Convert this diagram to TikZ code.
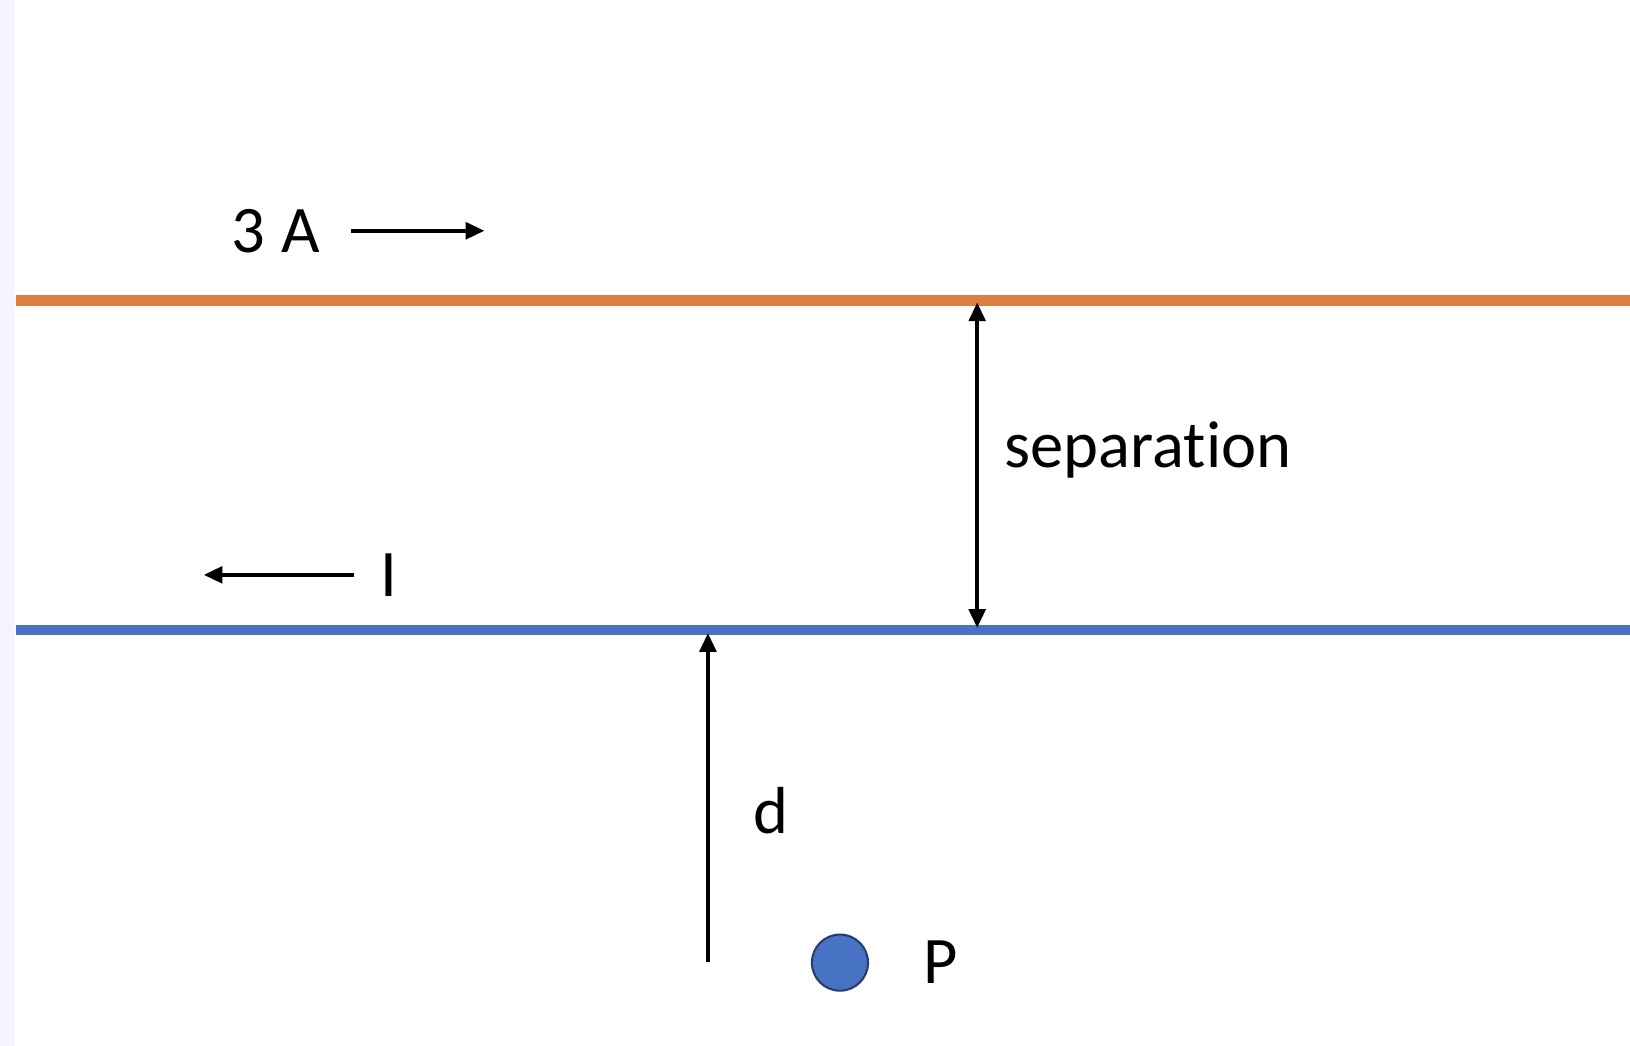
\documentclass[tikz,border=0pt]{standalone}
\usepackage{fontspec}
\setmainfont{Carlito}[Ligatures={NoCommon,NoRequired,NoContextual}]
\usetikzlibrary{arrows.meta}
\begin{document}
\begin{tikzpicture}[x=0.5pt,y=-0.5pt,
  lbl/.style={font=\fontsize{32}{36}\selectfont,inner sep=0pt},
  arr/.style={line width=1.8pt,-{Triangle[length=9pt,width=8pt]}},
  darr/.style={line width=1.8pt,{Triangle[length=9pt,width=8pt]}-{Triangle[length=9pt,width=8pt]}}]
\useasboundingbox (0,0) rectangle (1568,1006);
\fill[blue!4] (0,0) rectangle (14,1006);
\coordinate (o1) at (15,289); \coordinate (o2) at (1568,289);
\coordinate (b1) at (15,606); \coordinate (b2) at (1568,606);
\draw[line width=5pt,color={rgb,255:red,221;green,125;blue,64}] (o1) -- (o2);
\draw[line width=5pt,color={rgb,255:red,72;green,114;blue,196}] (b1) -- (b2);
\node[lbl,anchor=west] (tA) at (222,222) {\addfontfeatures{LetterSpace=3}3 A};
\coordinate (a1) at (338,222); \coordinate (a2) at (466,222);
\draw[arr] (a1) -- (a2);
\coordinate (i1) at (341,553); \coordinate (i2) at (196,553);
\draw[arr] (i1) -- (i2);
\node[lbl,anchor=west] (tI) at (366,553) {I};
\coordinate (s1) at (940,291); \coordinate (s2) at (940,604);
\draw[darr] (s1) -- (s2);
\node[lbl,anchor=west] (tS) at (966,433) {separation};
\coordinate (d1) at (681,925); \coordinate (d2) at (681,609);
\draw[arr] (d1) -- (d2);
\node[lbl] (tD) at (742,780) {d};
\node[circle,minimum size=27pt,inner sep=0pt,draw={rgb,255:red,40;green,60;blue,110},line width=1pt,fill={rgb,255:red,72;green,114;blue,196}] (P) at (808,926) {};
\node[lbl] (tP) at (905,926) {P};
\end{tikzpicture}
\end{document}
